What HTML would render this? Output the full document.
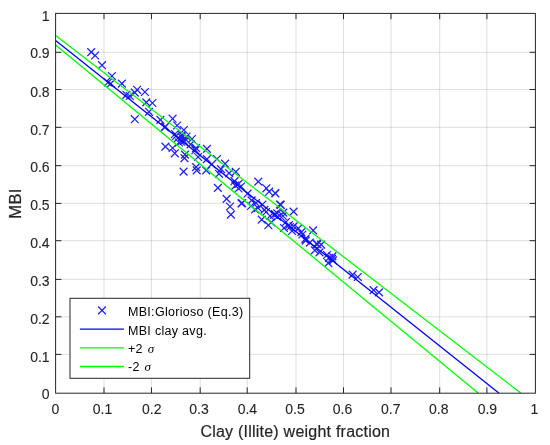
<!DOCTYPE html>
<html><head><meta charset="utf-8"><title>MBI vs Clay</title>
<style>html,body{margin:0;padding:0;background:#fff;width:550px;height:445px;overflow:hidden}svg{display:block}</style>
</head><body>
<svg width="550" height="445" viewBox="0 0 550 445" font-family="Liberation Sans, Arial, sans-serif">
<defs><clipPath id="clip"><rect x="55.6" y="13.4" width="479.79999999999995" height="379.8"/></clipPath></defs>
<rect width="550" height="445" fill="#ffffff"/>
<path d="M104.00 13.4V393.2M151.45 13.4V393.2M200.20 13.4V393.2M247.20 13.4V393.2M296.00 13.4V393.2M343.50 13.4V393.2M391.00 13.4V393.2M439.70 13.4V393.2M486.90 13.4V393.2" stroke="#262626" stroke-opacity="0.15" stroke-width="1" fill="none"/>
<path d="M55.6 354.40H535.4M55.6 316.80H535.4M55.6 279.40H535.4M55.6 240.70H535.4M55.6 203.40H535.4M55.6 165.70H535.4M55.6 127.35H535.4M55.6 89.50H535.4M55.6 52.30H535.4" stroke="#262626" stroke-opacity="0.15" stroke-width="1" fill="none"/>
<g clip-path="url(#clip)" fill="none">
<path d="M87.3 48.2l7.8 7.8M91.2 51.6l7.8 7.8M98.1 61.3l7.8 7.8M108.0 72.1l7.8 7.8M104.0 78.6l7.8 7.8M106.8 79.7l7.8 7.8M118.0 79.7l7.8 7.8M122.5 90.9l7.8 7.8M125.9 92.1l7.8 7.8M133.2 85.9l7.8 7.8M130.9 88.7l7.8 7.8M141.0 88.1l7.8 7.8M142.4 98.5l7.8 7.8M148.5 99.1l7.8 7.8M145.1 107.9l7.8 7.8M130.9 115.3l7.8 7.8M156.5 116.0l7.8 7.8M168.7 114.8l7.8 7.8M161.3 122.7l7.8 7.8M161.0 123.4l7.8 7.8M173.2 121.6l7.8 7.8M179.9 126.1l7.8 7.8M172.3 131.9l7.8 7.8M177.7 133.3l7.8 7.8M177.2 137.8l7.8 7.8M182.2 136.0l7.8 7.8M188.0 135.1l7.8 7.8M161.5 142.7l7.8 7.8M168.7 144.1l7.8 7.8M186.7 140.5l7.8 7.8M192.1 144.1l7.8 7.8M181.1 150.7l7.8 7.8M170.9 149.4l7.8 7.8M203.0 145.0l7.8 7.8M191.5 146.3l7.8 7.8M194.2 153.1l7.8 7.8M192.2 163.2l7.8 7.8M192.8 166.5l7.8 7.8M213.1 155.1l7.8 7.8M207.7 160.5l7.8 7.8M202.3 166.5l7.8 7.8M221.2 159.8l7.8 7.8M217.1 165.2l7.8 7.8M215.1 169.9l7.8 7.8M225.2 169.2l7.8 7.8M231.9 167.9l7.8 7.8M230.6 177.3l7.8 7.8M234.6 180.0l7.8 7.8M214.0 184.0l7.8 7.8M180.6 154.2l7.8 7.8M179.7 167.7l7.8 7.8M254.4 177.7l7.8 7.8M262.5 184.4l7.8 7.8M271.3 189.1l7.8 7.8M265.2 187.8l7.8 7.8M231.5 181.7l7.8 7.8M243.6 189.8l7.8 7.8M238.2 199.2l7.8 7.8M222.7 195.0l7.8 7.8M226.1 202.6l7.8 7.8M227.0 210.7l7.8 7.8M237.6 199.5l7.8 7.8M247.7 196.5l7.8 7.8M258.5 200.6l7.8 7.8M260.5 206.0l7.8 7.8M276.0 200.6l7.8 7.8M273.3 209.4l7.8 7.8M279.4 208.7l7.8 7.8M271.5 189.5l7.8 7.8M276.9 200.9l7.8 7.8M289.7 207.7l7.8 7.8M270.1 211.0l7.8 7.8M273.5 213.1l7.8 7.8M267.4 218.5l7.8 7.8M285.0 221.2l7.8 7.8M289.7 222.5l7.8 7.8M294.4 224.5l7.8 7.8M309.2 226.5l7.8 7.8M298.5 230.6l7.8 7.8M301.8 236.7l7.8 7.8M305.9 238.7l7.8 7.8M312.6 240.0l7.8 7.8M317.3 240.7l7.8 7.8M297.4 228.2l7.8 7.8M301.5 235.0l7.8 7.8M313.6 240.4l7.8 7.8M310.9 246.4l7.8 7.8M315.6 248.5l7.8 7.8M323.1 251.1l7.8 7.8M325.1 253.9l7.8 7.8M328.5 252.5l7.8 7.8M324.4 259.2l7.8 7.8M329.1 256.5l7.8 7.8M348.7 270.7l7.8 7.8M353.9 273.1l7.8 7.8M328.1 255.0l7.8 7.8M369.7 286.2l7.8 7.8M375.1 288.5l7.8 7.8M171.1 130.1l7.8 7.8M174.1 134.1l7.8 7.8M178.1 131.1l7.8 7.8M180.1 137.1l7.8 7.8M175.1 138.6l7.8 7.8M182.6 132.6l7.8 7.8M203.0 155.2l7.8 7.8M234.6 184.6l7.8 7.8M237.1 182.6l7.8 7.8M247.1 202.1l7.8 7.8M251.1 205.6l7.8 7.8M252.1 199.1l7.8 7.8M254.1 204.1l7.8 7.8M262.1 208.1l7.8 7.8M266.1 212.1l7.8 7.8M257.8 215.7l7.8 7.8M264.5 221.3l7.8 7.8M271.1 210.1l7.8 7.8M279.1 212.1l7.8 7.8M282.1 218.1l7.8 7.8M286.1 223.1l7.8 7.8M280.1 224.1l7.8 7.8M288.1 227.1l7.8 7.8" stroke="#2222ff" stroke-width="1.25"/>
<path d="M87.3 56.0l7.8 -7.8M91.2 59.4l7.8 -7.8M98.1 69.1l7.8 -7.8M108.0 79.9l7.8 -7.8M104.0 86.4l7.8 -7.8M106.8 87.5l7.8 -7.8M118.0 87.5l7.8 -7.8M122.5 98.7l7.8 -7.8M125.9 99.9l7.8 -7.8M133.2 93.7l7.8 -7.8M130.9 96.5l7.8 -7.8M141.0 95.9l7.8 -7.8M142.4 106.3l7.8 -7.8M148.5 106.9l7.8 -7.8M145.1 115.7l7.8 -7.8M130.9 123.1l7.8 -7.8M156.5 123.8l7.8 -7.8M168.7 122.6l7.8 -7.8M161.3 130.5l7.8 -7.8M161.0 131.2l7.8 -7.8M173.2 129.4l7.8 -7.8M179.9 133.9l7.8 -7.8M172.3 139.7l7.8 -7.8M177.7 141.1l7.8 -7.8M177.2 145.6l7.8 -7.8M182.2 143.8l7.8 -7.8M188.0 142.9l7.8 -7.8M161.5 150.5l7.8 -7.8M168.7 151.9l7.8 -7.8M186.7 148.3l7.8 -7.8M192.1 151.9l7.8 -7.8M181.1 158.5l7.8 -7.8M170.9 157.2l7.8 -7.8M203.0 152.8l7.8 -7.8M191.5 154.1l7.8 -7.8M194.2 160.9l7.8 -7.8M192.2 171.0l7.8 -7.8M192.8 174.3l7.8 -7.8M213.1 162.9l7.8 -7.8M207.7 168.3l7.8 -7.8M202.3 174.3l7.8 -7.8M221.2 167.6l7.8 -7.8M217.1 173.0l7.8 -7.8M215.1 177.7l7.8 -7.8M225.2 177.0l7.8 -7.8M231.9 175.7l7.8 -7.8M230.6 185.1l7.8 -7.8M234.6 187.8l7.8 -7.8M214.0 191.8l7.8 -7.8M180.6 162.0l7.8 -7.8M179.7 175.5l7.8 -7.8M254.4 185.5l7.8 -7.8M262.5 192.2l7.8 -7.8M271.3 196.9l7.8 -7.8M265.2 195.6l7.8 -7.8M231.5 189.5l7.8 -7.8M243.6 197.6l7.8 -7.8M238.2 207.0l7.8 -7.8M222.7 202.8l7.8 -7.8M226.1 210.4l7.8 -7.8M227.0 218.5l7.8 -7.8M237.6 207.3l7.8 -7.8M247.7 204.3l7.8 -7.8M258.5 208.4l7.8 -7.8M260.5 213.8l7.8 -7.8M276.0 208.4l7.8 -7.8M273.3 217.2l7.8 -7.8M279.4 216.5l7.8 -7.8M271.5 197.3l7.8 -7.8M276.9 208.7l7.8 -7.8M289.7 215.5l7.8 -7.8M270.1 218.8l7.8 -7.8M273.5 220.9l7.8 -7.8M267.4 226.3l7.8 -7.8M285.0 229.0l7.8 -7.8M289.7 230.3l7.8 -7.8M294.4 232.3l7.8 -7.8M309.2 234.3l7.8 -7.8M298.5 238.4l7.8 -7.8M301.8 244.5l7.8 -7.8M305.9 246.5l7.8 -7.8M312.6 247.8l7.8 -7.8M317.3 248.5l7.8 -7.8M297.4 236.0l7.8 -7.8M301.5 242.8l7.8 -7.8M313.6 248.2l7.8 -7.8M310.9 254.2l7.8 -7.8M315.6 256.3l7.8 -7.8M323.1 258.9l7.8 -7.8M325.1 261.7l7.8 -7.8M328.5 260.3l7.8 -7.8M324.4 267.0l7.8 -7.8M329.1 264.3l7.8 -7.8M348.7 278.5l7.8 -7.8M353.9 280.9l7.8 -7.8M328.1 262.8l7.8 -7.8M369.7 294.0l7.8 -7.8M375.1 296.3l7.8 -7.8M171.1 137.9l7.8 -7.8M174.1 141.9l7.8 -7.8M178.1 138.9l7.8 -7.8M180.1 144.9l7.8 -7.8M175.1 146.4l7.8 -7.8M182.6 140.4l7.8 -7.8M203.0 163.0l7.8 -7.8M234.6 192.4l7.8 -7.8M237.1 190.4l7.8 -7.8M247.1 209.9l7.8 -7.8M251.1 213.4l7.8 -7.8M252.1 206.9l7.8 -7.8M254.1 211.9l7.8 -7.8M262.1 215.9l7.8 -7.8M266.1 219.9l7.8 -7.8M257.8 223.5l7.8 -7.8M264.5 229.1l7.8 -7.8M271.1 217.9l7.8 -7.8M279.1 219.9l7.8 -7.8M282.1 225.9l7.8 -7.8M286.1 230.9l7.8 -7.8M280.1 231.9l7.8 -7.8M288.1 234.9l7.8 -7.8" stroke="#2222ff" stroke-width="1.25"/>
<line x1="55.6" y1="40.4" x2="499.1" y2="393.2" stroke="#0000ff" stroke-width="1.3"/>
<line x1="55.6" y1="35.5" x2="521.0" y2="393.2" stroke="#00ff00" stroke-width="1.3"/>
<line x1="55.6" y1="45.0" x2="478.4" y2="393.2" stroke="#00ff00" stroke-width="1.3"/>
</g>
<path d="M104.00 393.2v-5.8M104.00 13.4v5.8M55.6 354.40h5.8M535.4 354.40h-5.8M151.45 393.2v-5.8M151.45 13.4v5.8M55.6 316.80h5.8M535.4 316.80h-5.8M200.20 393.2v-5.8M200.20 13.4v5.8M55.6 279.40h5.8M535.4 279.40h-5.8M247.20 393.2v-5.8M247.20 13.4v5.8M55.6 240.70h5.8M535.4 240.70h-5.8M296.00 393.2v-5.8M296.00 13.4v5.8M55.6 203.40h5.8M535.4 203.40h-5.8M343.50 393.2v-5.8M343.50 13.4v5.8M55.6 165.70h5.8M535.4 165.70h-5.8M391.00 393.2v-5.8M391.00 13.4v5.8M55.6 127.35h5.8M535.4 127.35h-5.8M439.70 393.2v-5.8M439.70 13.4v5.8M55.6 89.50h5.8M535.4 89.50h-5.8M486.90 393.2v-5.8M486.90 13.4v5.8M55.6 52.30h5.8M535.4 52.30h-5.8" stroke="#262626" stroke-width="1" fill="none"/>
<rect x="55.6" y="13.4" width="479.79999999999995" height="379.8" fill="none" stroke="#262626" stroke-width="1"/>
<g font-size="14" fill="#262626" stroke="#262626" stroke-width="0.1"><text x="55.40" y="413.6" text-anchor="middle">0</text><text x="49.60" y="399.00" text-anchor="end">0</text><text x="102.50" y="413.6" text-anchor="middle">0.1</text><text x="49.60" y="361.90" text-anchor="end">0.1</text><text x="151.70" y="413.6" text-anchor="middle">0.2</text><text x="49.60" y="323.90" text-anchor="end">0.2</text><text x="198.95" y="413.6" text-anchor="middle">0.3</text><text x="49.60" y="286.30" text-anchor="end">0.3</text><text x="247.40" y="413.6" text-anchor="middle">0.4</text><text x="49.60" y="248.40" text-anchor="end">0.4</text><text x="295.00" y="413.6" text-anchor="middle">0.5</text><text x="49.60" y="210.45" text-anchor="end">0.5</text><text x="342.50" y="413.6" text-anchor="middle">0.6</text><text x="49.60" y="172.40" text-anchor="end">0.6</text><text x="390.80" y="413.6" text-anchor="middle">0.7</text><text x="49.60" y="134.80" text-anchor="end">0.7</text><text x="438.70" y="413.6" text-anchor="middle">0.8</text><text x="49.60" y="96.55" text-anchor="end">0.8</text><text x="487.40" y="413.6" text-anchor="middle">0.9</text><text x="49.60" y="58.15" text-anchor="end">0.9</text><text x="534.30" y="413.6" text-anchor="middle">1</text><text x="49.60" y="20.95" text-anchor="end">1</text></g>
<text x="295.3" y="437.0" text-anchor="middle" font-size="16" letter-spacing="0.23" fill="#262626" stroke="#262626" stroke-width="0.2">Clay (Illite) weight fraction</text>
<text transform="translate(20.6,203.5) rotate(-90)" text-anchor="middle" font-size="16.5" letter-spacing="0.4" fill="#262626" stroke="#262626" stroke-width="0.2">MBI</text>
<g font-size="12.5" letter-spacing="0.3" fill="#000000"><rect x="70" y="298.3" width="179.7" height="80" fill="#ffffff" stroke="#262626" stroke-width="1"/><path d="M98.1 306.5l7.8 7.8" stroke="#2222ff" stroke-width="1.25"/><path d="M98.1 314.3l7.8 -7.8" stroke="#2222ff" stroke-width="1.25"/><line x1="79.9" y1="329.1" x2="123.9" y2="329.1" stroke="#0000ff" stroke-width="1.3"/><line x1="79.9" y1="347.8" x2="123.9" y2="347.8" stroke="#00ff00" stroke-width="1.3"/><line x1="79.9" y1="366.5" x2="123.9" y2="366.5" stroke="#00ff00" stroke-width="1.3"/><text x="128" y="316.2">MBI:Glorioso (Eq.3)</text><text x="128" y="335.2">MBI clay avg.</text><text x="128" y="352.8">+2 <tspan dx="1" font-family="Liberation Serif, serif" font-style="italic" font-size="13">σ</tspan></text><text x="128" y="371.4">-2 <tspan dx="1" font-family="Liberation Serif, serif" font-style="italic" font-size="13">σ</tspan></text></g>
</svg>
</body></html>
